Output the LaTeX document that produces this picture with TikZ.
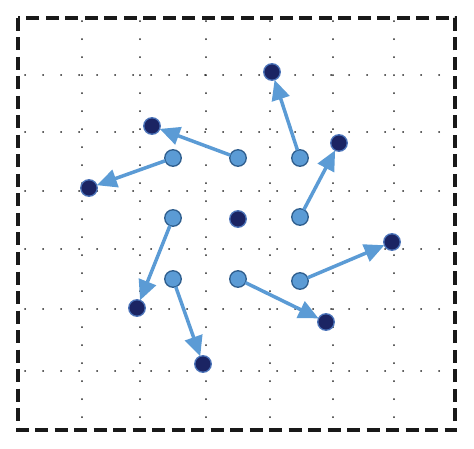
\documentclass[tikz,border=0pt]{standalone}
\usetikzlibrary{arrows.meta}
\definecolor{lightfill}{HTML}{5B9BD5}
\definecolor{lightedge}{HTML}{2F5E8E}
\definecolor{darkfill}{HTML}{1B2463}
\definecolor{darkedge}{HTML}{4A72B8}
\definecolor{arrowcol}{HTML}{5B9BD5}
\tikzset{
  startpt/.style={circle,fill=lightfill,draw=lightedge,line width=1.3pt,minimum size=16.5pt,inner sep=0pt,outer sep=0pt},
  endpt/.style={circle,fill=darkfill,draw=darkedge,line width=1.3pt,minimum size=16.5pt,inner sep=0pt,outer sep=0pt},
  movearrow/.style={draw=arrowcol,line width=3.5pt,-{Triangle[length=20pt,width=18pt]}},
  gridline/.style={draw=black!85,line width=1.7pt,line cap=round,dash pattern=on 0.2pt off 17.8pt},
  frame/.style={draw=black!90,line width=3.6pt,dash pattern=on 13pt off 6.5pt}
}
\begin{document}
\begin{tikzpicture}[x=1pt,y=-1pt]
\useasboundingbox (0,0) rectangle (474,449);
% grid
\foreach \gx in {82,140,206,270,333,394}{
  \draw[gridline] (\gx,21) -- (\gx,428);
}
\foreach \gy in {75,132,191,249,309,371}{
  \draw[gridline] (25,\gy) -- (453,\gy);
}
% frame
\draw[frame] (18,18) rectangle (455,430);
% start points
\node[startpt] (s1) at (173,158) {};
\node[startpt] (s2) at (238,158) {};
\node[startpt] (s3) at (300,158) {};
\node[startpt] (s4) at (173,218) {};
\node[startpt] (s6) at (300,217) {};
\node[startpt] (s7) at (173,279) {};
\node[startpt] (s8) at (238,279) {};
\node[startpt] (s9) at (300,281) {};
% end points
\node[endpt] (c) at (238,219) {};
\node[endpt] (e1) at (89,188) {};
\node[endpt] (e2) at (152,126) {};
\node[endpt] (e3) at (272,72) {};
\node[endpt] (e4) at (137,308) {};
\node[endpt] (e6) at (339,143) {};
\node[endpt] (e7) at (203,364) {};
\node[endpt] (e8) at (326,322) {};
\node[endpt] (e9) at (392,242) {};
% arrows
\path[movearrow] (s1) -- (e1);
\path[movearrow] (s2) -- (e2);
\path[movearrow] (s3) -- (e3);
\path[movearrow] (s4) -- (e4);
\path[movearrow] (s6) -- (e6);
\path[movearrow] (s7) -- (e7);
\path[movearrow] (s8) -- (e8);
\path[movearrow] (s9) -- (e9);
\end{tikzpicture}
\end{document}
